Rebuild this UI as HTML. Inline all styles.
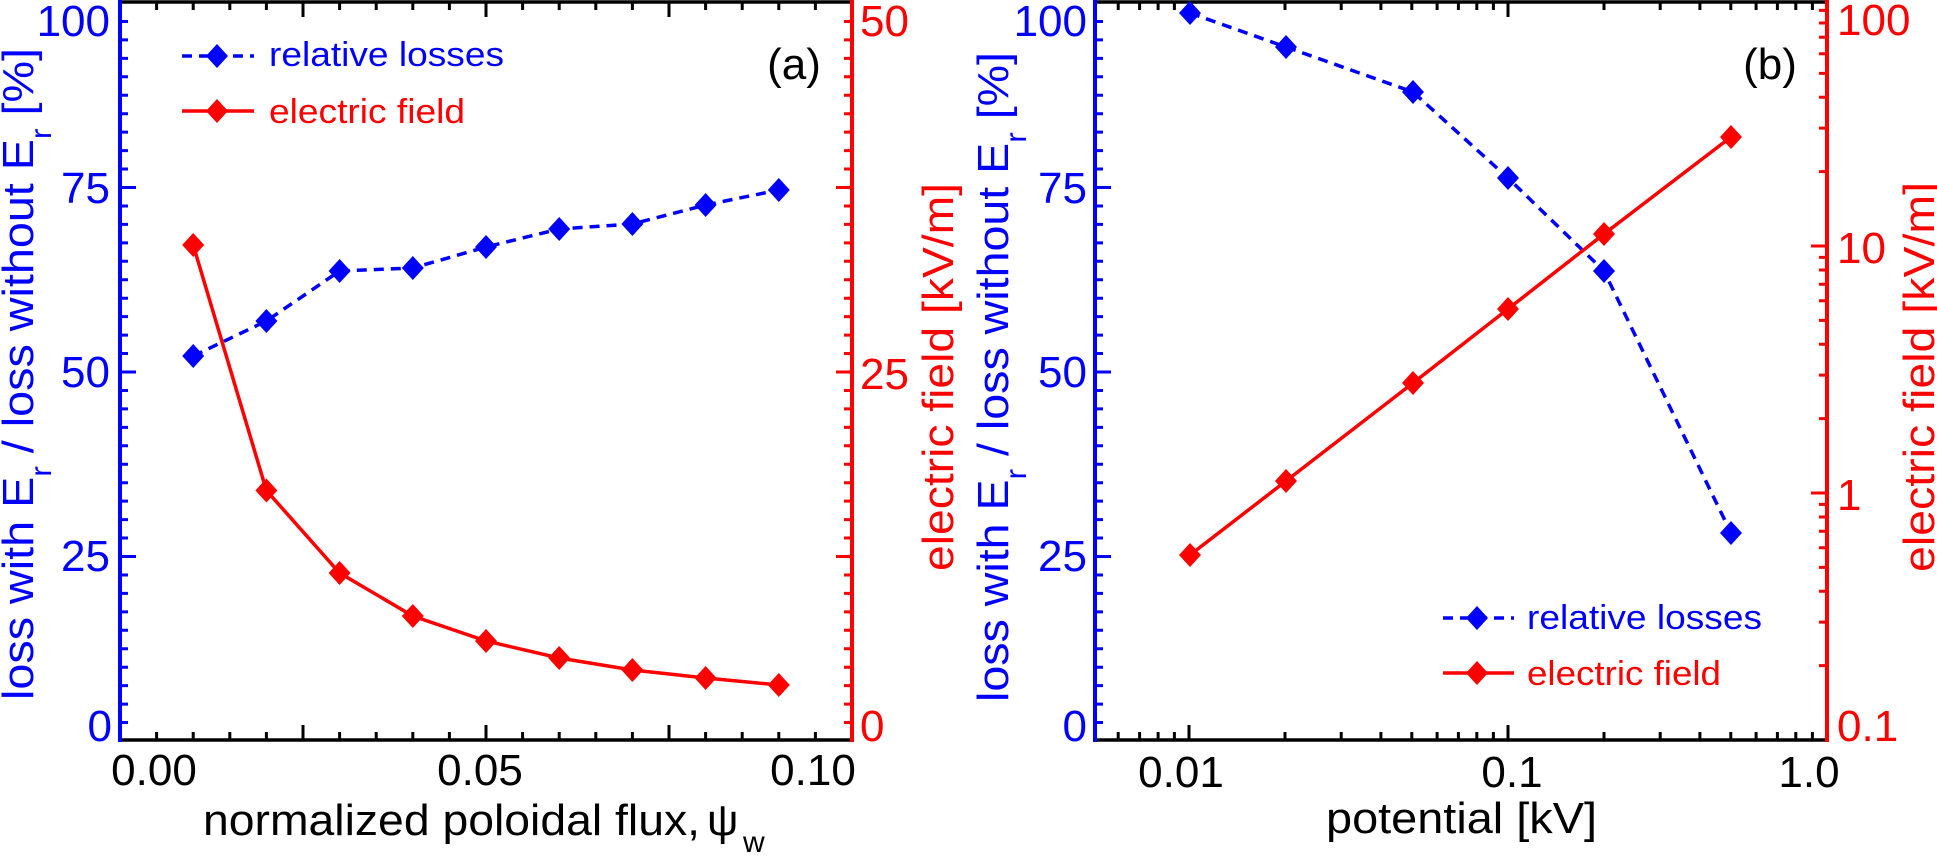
<!DOCTYPE html>
<html><head><meta charset="utf-8"><style>
html,body{margin:0;padding:0;background:#fff;}
svg{display:block;font-family:"Liberation Sans",Arial,sans-serif;}
</style></head><body>
<svg width="1937" height="856" viewBox="0 0 1937 856" xmlns="http://www.w3.org/2000/svg">
<defs>
<path id="dm" d="M0,-12 L11,0 L0,12 L-11,0 Z"/>
</defs>
<g stroke-width="3.5" fill="none">
<!-- Panel a box -->
<path d="M120,2 H852 M120,740 H852" stroke="#000"/>
<path d="M120,0 V742" stroke="#00f" stroke-width="4"/>
<path d="M852,0 V742" stroke="#f00" stroke-width="4"/>
<!-- a x ticks -->
<path stroke="#000" stroke-width="3" d="M156.6,740v-8M193.2,740v-8M229.8,740v-8M266.4,740v-8M303,740v-15M339.6,740v-8M376.2,740v-8M412.8,740v-8M449.4,740v-8M486,740v-15M522.6,740v-8M559.2,740v-8M595.8,740v-8M632.4,740v-8M669,740v-15M705.6,740v-8M742.2,740v-8M778.8,740v-8M815.4,740v-8
M156.6,2v8M193.2,2v8M229.8,2v8M266.4,2v8M303,2v15M339.6,2v8M376.2,2v8M412.8,2v8M449.4,2v8M486,2v15M522.6,2v8M559.2,2v8M595.8,2v8M632.4,2v8M669,2v15M705.6,2v8M742.2,2v8M778.8,2v8M815.4,2v8"/>
<!-- a left ticks -->
<path id="lt" stroke="#00f" stroke-width="3" d="M120,722.55h8M120,704.1h8M120,685.65h8M120,667.2h8M120,648.75h8M120,630.3h8M120,611.85h8M120,593.4h8M120,574.95h8M120,556.5h16M120,538.05h8M120,519.6h8M120,501.15h8M120,482.7h8M120,464.25h8M120,445.8h8M120,427.35h8M120,408.9h8M120,390.45h8M120,372h16M120,353.55h8M120,335.1h8M120,316.65h8M120,298.2h8M120,279.75h8M120,261.3h8M120,242.85h8M120,224.4h8M120,205.95h8M120,187.5h16M120,169.05h8M120,150.6h8M120,132.15h8M120,113.7h8M120,95.25h8M120,76.8h8M120,58.35h8M120,39.9h8M120,21.45h8"/>
<use href="#lt" transform="translate(975,0)"/>
<!-- a right ticks -->
<g transform="translate(972,0) scale(-1,1)"><path stroke="#f00" stroke-width="3" d="M120,722.55h8M120,704.1h8M120,685.65h8M120,667.2h8M120,648.75h8M120,630.3h8M120,611.85h8M120,593.4h8M120,574.95h8M120,556.5h16M120,538.05h8M120,519.6h8M120,501.15h8M120,482.7h8M120,464.25h8M120,445.8h8M120,427.35h8M120,408.9h8M120,390.45h8M120,372h16M120,353.55h8M120,335.1h8M120,316.65h8M120,298.2h8M120,279.75h8M120,261.3h8M120,242.85h8M120,224.4h8M120,205.95h8M120,187.5h16M120,169.05h8M120,150.6h8M120,132.15h8M120,113.7h8M120,95.25h8M120,76.8h8M120,58.35h8M120,39.9h8M120,21.45h8"/></g>

<!-- Panel b box -->
<path d="M1095,2 H1827 M1095,740 H1827" stroke="#000"/>
<path d="M1095,0 V742" stroke="#00f" stroke-width="4"/>
<path d="M1827,0 V742" stroke="#f00" stroke-width="4"/>
<path stroke="#000" stroke-width="3" d="M1118.2,740v-8M1139.6,740v-8M1158.1,740v-8M1174.4,740v-8M1189,740v-15M1285,740v-8M1341.2,740v-8M1380.9,740v-8M1411.8,740v-8M1437.1,740v-8M1458.4,740v-8M1476.8,740v-8M1493.4,740v-8M1508,740v-15M1604,740v-8M1660.2,740v-8M1699.9,740v-8M1730.8,740v-8M1756.1,740v-8M1777.4,740v-8M1795.8,740v-8M1812.4,740v-8
M1118.2,2v8M1139.6,2v8M1158.1,2v8M1174.4,2v8M1189,2v15M1285,2v8M1341.2,2v8M1380.9,2v8M1411.8,2v8M1437.1,2v8M1458.4,2v8M1476.8,2v8M1493.4,2v8M1508,2v15M1604,2v8M1660.2,2v8M1699.9,2v8M1730.8,2v8M1756.1,2v8M1777.4,2v8M1795.8,2v8M1812.4,2v8"/>
<path stroke="#f00" stroke-width="3" d="M1827,665.6h-8M1827,622.1h-8M1827,591.3h-8M1827,567.4h-8M1827,547.8h-8M1827,531.3h-8M1827,517h-8M1827,504.4h-8M1827,493h-16M1827,418.6h-8M1827,375.1h-8M1827,344.3h-8M1827,320.4h-8M1827,300.8h-8M1827,284.3h-8M1827,270h-8M1827,257.4h-8M1827,246h-16M1827,171.6h-8M1827,128.1h-8M1827,97.3h-8M1827,73.4h-8M1827,53.8h-8M1827,37.3h-8M1827,23h-8M1827,10.4h-8"/>

<!-- data a -->
<polyline stroke="#00f" stroke-dasharray="10,7" points="193.2,356 266.4,321 339.6,271 412.8,268 486,247 559.2,229 632.4,224 705.6,205 778.8,190"/>
<polyline stroke="#f00" points="193.2,245 266.4,490.5 339.6,573 412.8,616 486,641 559.2,658 632.4,670 705.6,678 778.8,685"/>
<!-- data b -->
<polyline stroke="#00f" stroke-dasharray="10,7" points="1190,13 1286,47 1413,92 1508,178 1604,271 1731,533"/>
<polyline stroke="#f00" points="1190,555 1286,481 1413,383 1508,309 1604,234 1731,137"/>
<!-- legends -->
<path stroke="#00f" stroke-dasharray="10,7" d="M182,56H254M1443,618H1514"/>
<path stroke="#f00" d="M182,111H254M1443,673H1514"/>
</g>
<g fill="#00f">
<use href="#dm" x="193.2" y="356"/><use href="#dm" x="266.4" y="321"/><use href="#dm" x="339.6" y="271"/><use href="#dm" x="412.8" y="268"/><use href="#dm" x="486" y="247"/><use href="#dm" x="559.2" y="229"/><use href="#dm" x="632.4" y="224"/><use href="#dm" x="705.6" y="205"/><use href="#dm" x="778.8" y="190"/>
<use href="#dm" x="1190" y="13"/><use href="#dm" x="1286" y="47"/><use href="#dm" x="1413" y="92"/><use href="#dm" x="1508" y="178"/><use href="#dm" x="1604" y="271"/><use href="#dm" x="1731" y="533"/>
<use href="#dm" x="217" y="56"/><use href="#dm" x="1477" y="618"/>
</g>
<g fill="#f00">
<use href="#dm" x="193.2" y="245"/><use href="#dm" x="266.4" y="490.5"/><use href="#dm" x="339.6" y="573"/><use href="#dm" x="412.8" y="616"/><use href="#dm" x="486" y="641"/><use href="#dm" x="559.2" y="658"/><use href="#dm" x="632.4" y="670"/><use href="#dm" x="705.6" y="678"/><use href="#dm" x="778.8" y="685"/>
<use href="#dm" x="1190" y="555"/><use href="#dm" x="1286" y="481"/><use href="#dm" x="1413" y="383"/><use href="#dm" x="1508" y="309"/><use href="#dm" x="1604" y="234"/><use href="#dm" x="1731" y="137"/>
<use href="#dm" x="217" y="111"/><use href="#dm" x="1477" y="673"/>
</g>

<!-- tick labels -->
<g font-size="44" fill="#00f" text-anchor="end">
<text x="110" y="36">100</text><text x="110" y="203">75</text><text x="110" y="387">50</text><text x="110" y="571">25</text><text x="112" y="741">0</text>
<text x="1087" y="36">100</text><text x="1087" y="203">75</text><text x="1087" y="387">50</text><text x="1087" y="571">25</text><text x="1087" y="741">0</text>
</g>
<g font-size="44" fill="#f00">
<text x="860" y="36">50</text><text x="860" y="389">25</text><text x="860" y="741">0</text>
<text x="1837" y="35">100</text><text x="1837" y="263">10</text><text x="1837" y="510">1</text><text x="1837" y="741">0.1</text>
</g>
<g font-size="44" fill="#000" text-anchor="middle">
<text x="154" y="785">0.00</text><text x="480" y="785">0.05</text><text x="813" y="785">0.10</text>
<text x="1181" y="787">0.01</text><text x="1512" y="787">0.1</text><text x="1809" y="787">1.0</text>
<text x="794" y="79">(a)</text><text x="1770" y="79">(b)</text>
</g>
<!-- axis titles -->
<text x="203" y="835" font-size="44" fill="#000" textLength="497" lengthAdjust="spacingAndGlyphs">normalized poloidal flux,</text>
<text x="707" y="835" font-size="44" fill="#000">ψ</text><text x="743" y="852" font-size="30" fill="#000">w</text>
<text x="1326" y="833" font-size="44" fill="#000" textLength="271" lengthAdjust="spacingAndGlyphs">potential [kV]</text>

<g font-size="44" fill="#00f">
<text transform="translate(33,700) rotate(-90)" textLength="652" lengthAdjust="spacingAndGlyphs">loss with E<tspan font-size="30" dy="18">r</tspan><tspan dy="-18"> / loss without E</tspan><tspan font-size="30" dy="18">r</tspan><tspan dy="-18"> [%]</tspan></text>
<text transform="translate(1008,702) rotate(-90)" textLength="650" lengthAdjust="spacingAndGlyphs">loss with E<tspan font-size="30" dy="18">r</tspan><tspan dy="-18"> / loss without E</tspan><tspan font-size="30" dy="18">r</tspan><tspan dy="-18"> [%]</tspan></text>
</g>
<g font-size="44" fill="#f00">
<text transform="translate(953,571) rotate(-90)" textLength="388" lengthAdjust="spacingAndGlyphs">electric field [kV/m]</text>
<text transform="translate(1934,572) rotate(-90)" textLength="390" lengthAdjust="spacingAndGlyphs">electric field [kV/m]</text>
</g>
<!-- legend text -->
<g font-size="34">
<text x="269" y="66" fill="#00f" textLength="235" lengthAdjust="spacingAndGlyphs">relative losses</text>
<text x="269" y="123" fill="#f00" textLength="196" lengthAdjust="spacingAndGlyphs">electric field</text>
<text x="1527" y="629" fill="#00f" textLength="235" lengthAdjust="spacingAndGlyphs">relative losses</text>
<text x="1527" y="685" fill="#f00" textLength="194" lengthAdjust="spacingAndGlyphs">electric field</text>
</g>
</svg>
</body></html>
